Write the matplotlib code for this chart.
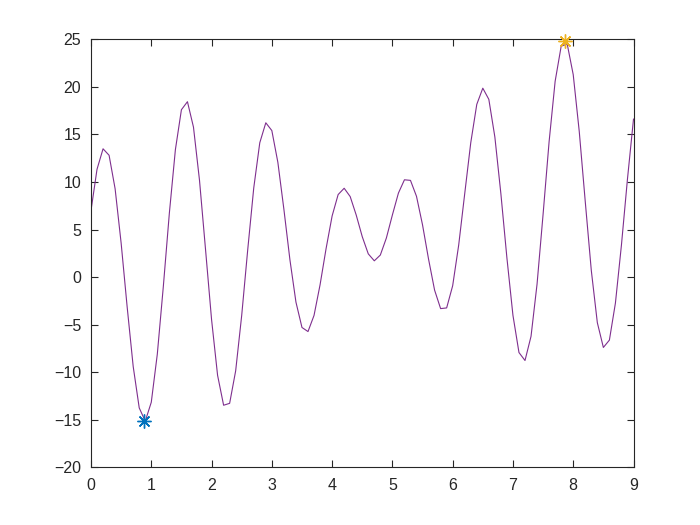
import matplotlib
matplotlib.use("Agg")
import matplotlib.pyplot as plt

x_vals = [round(0.1 * i, 1) for i in range(91)]
y_vals = [
    7.000, 11.342, 13.492, 12.811, 9.289, 3.572, -3.151, -9.403, -13.756, -15.153,
    -13.165, -8.107, -0.982, 6.731, 13.399, 17.601, 18.446, 15.771, 10.180, 2.907,
    -4.459, -10.332, -13.478, -13.278, -9.859, -4.037, 2.874, 9.378, 14.127, 16.227,
    15.410, 12.068, 7.131, 1.823, -2.632, -5.300, -5.729, -4.032, -0.817, 2.996,
    6.426, 8.679, 9.342, 8.466, 6.522, 4.251, 2.442, 1.711, 2.319, 4.106,
    6.533, 8.833, 10.232, 10.171, 8.493, 5.493, 1.886, -1.370, -3.315, -3.244,
    -0.911, 3.372, 8.776, 14.124, 18.164, 19.867, 18.691, 14.735, 8.757, 2.007,
    -4.020, -7.935, -8.773, -6.230, -0.734, 6.602, 14.252, 20.593, 24.275, 24.518,
    21.291, 15.317, 7.913, 0.693, -4.794, -7.401, -6.631, -2.733, 3.373, 10.320,
    16.613,
]

# found extremes
min_pt = (0.886, -15.18)
max_pt = (7.857, 24.855)

plt.rcParams['font.family'] = ['Liberation Sans', 'DejaVu Sans']

fig = plt.figure(figsize=(7, 5.25), dpi=100)
ax = fig.add_axes([0.13, 0.11, 0.775, 0.815])

ax.plot(x_vals, y_vals, color="#7E2F8E", linewidth=0.8)
# matlab style '*' marker: plus + cross
for pt, col in [(min_pt, "#0072BD"), (max_pt, "#EDB120")]:
    ax.plot(pt[0], pt[1], color=col, marker=(8, 2, 0), markersize=10,
            markeredgewidth=1.0, linestyle='none', clip_on=False, zorder=3)

ax.set_xlim(0, 9)
ax.set_ylim(-20, 25)
ax.set_xticks(range(0, 10))
ax.set_yticks(range(-20, 26, 5))

dark = "#262626"
for s in ax.spines.values():
    s.set_color(dark)
    s.set_linewidth(0.8)
ax.tick_params(direction='in', top=True, right=True, length=5, width=0.8,
               colors=dark, labelsize=11.5, labelcolor=dark)
ax.tick_params(axis='x', pad=8)
ax.tick_params(axis='y', pad=7)

fig.savefig("out.png", dpi=100)
